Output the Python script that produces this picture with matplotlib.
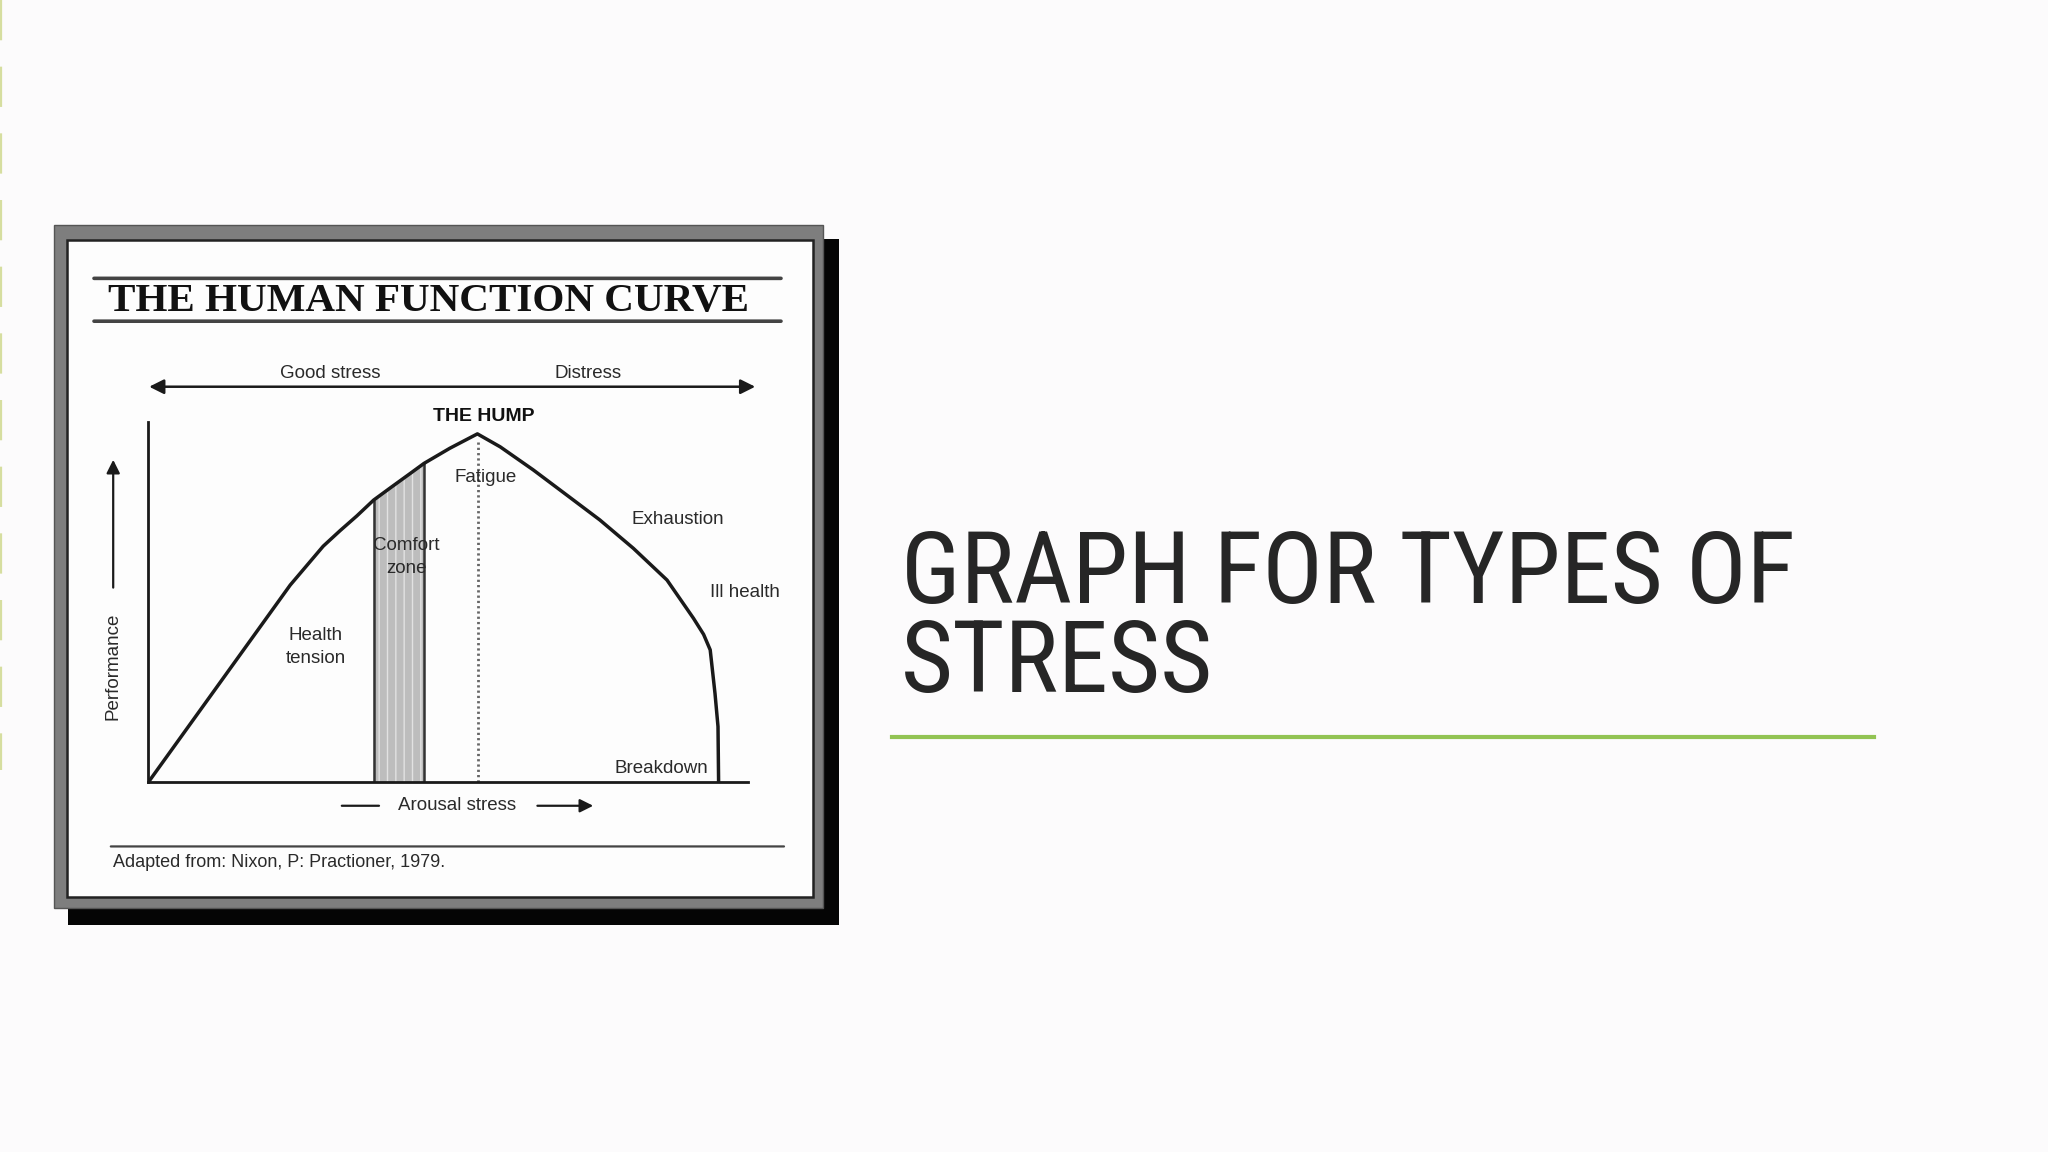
import matplotlib.pyplot as plt
from matplotlib.patches import Rectangle
from matplotlib.lines import Line2D
from matplotlib import font_manager
import numpy as np

# slide text
slide_title = ["GRAPH FOR TYPES OF", "STRESS"]
chart_title = "THE HUMAN FUNCTION CURVE"
source_note = "Adapted from: Nixon, P: Practioner, 1979."

# the human function curve (arousal stress -> performance, 0-100 scale)
arousal = [0.3, 23.7, 29.2, 32.0, 34.8, 37.6, 40.3, 43.7, 46.0, 50.3, 54.9,
           58.7, 64.2, 69.8, 75.3, 80.9, 86.5, 90.9, 92.6, 93.7, 94.5, 95.0, 95.1]
performance = [0.5, 54.7, 65.5, 69.8, 73.9, 78.3, 81.6, 85.7, 88.5, 92.7, 96.7,
               93.1, 86.7, 79.7, 72.8, 64.9, 56.1, 45.5, 41.0, 36.7, 24.6, 15.4, 0.0]
comfort_zone = (37.6, 46.0)
hump_x = 55.0

# region labels: (text, x, y)
labels = [
    ("Fatigue", 56.2, 84.5),
    ("Comfort\nzone", 43.1, 62.6),
    ("Exhaustion", 88.3, 72.8),
    ("Ill health", 99.5, 52.7),
    ("Health\ntension", 28.0, 37.6),
    ("Breakdown", 85.5, 3.8),
]
zone_labels = [("Good stress", 30.4, 113.5), ("Distress", 73.4, 113.5)]

W, H = 2048, 1152
def fx(px):
    return px / W
def fy(py):
    return 1 - py / H

installed = {f.name for f in font_manager.fontManager.ttflist}
narrow = 'Liberation Sans'
for cand in ['Liberation Sans Narrow', 'Roboto Condensed', 'Open Sans Condensed', 'Arial Narrow']:
    if cand in installed:
        narrow = cand
        break

plt.rcParams['lines.scale_dashes'] = False
fig = plt.figure(figsize=(20.48, 11.52), dpi=100)
fig.patch.set_facecolor('#fcfbfc')

# faint dashed accent on the left edge
fig.add_artist(Line2D([fx(1), fx(1)], [fy(0), fy(770)], transform=fig.transFigure,
                      color='#d6dea0', lw=1.6, dashes=(29, 19)))

# picture frame: shadow, grey border, white panel
frame = [
    ((68, 239, 839, 925), '#050505', 'none', 0),
    ((54, 225, 823, 908), '#7e7e7e', '#555555', 1),
    ((67, 240, 813, 897), '#fdfdfd', '#222222', 1.8),
]
for (x0, y0, x1, y1), fc, ec, lw in frame:
    fig.patches.append(Rectangle((fx(x0), fy(y1)), fx(x1) - fx(x0), fy(y0) - fy(y1),
                                 transform=fig.transFigure, facecolor=fc, edgecolor=ec,
                                 lw=lw, zorder=-5))

ax = fig.add_axes([fx(148), fy(782), fx(748) - fx(148), fy(422) - fy(782)])
ax.set_zorder(2)
ax.set_xlim(0, 100)
ax.set_ylim(0, 100)
ax.patch.set_alpha(0)
for s in ['top', 'right']:
    ax.spines[s].set_visible(False)
for s in ['left', 'bottom']:
    ax.spines[s].set_color('#1a1a1a')
    ax.spines[s].set_linewidth(2.0)
ax.set_xticks([])
ax.set_yticks([])

ink = '#1a1a1a'
txt = '#2a2a2a'
sans = ['Liberation Sans', 'DejaVu Sans']

# comfort zone shading
x = np.array(arousal)
y = np.array(performance)
mask = (x >= comfort_zone[0]) & (x <= comfort_zone[1])
plt.rcParams['hatch.color'] = '#e2e2e2'
ax.fill_between(x[mask], 0, y[mask], facecolor='#bdbdbd', edgecolor='#e2e2e2',
                lw=0, hatch='||', zorder=1)
for b in comfort_zone:
    ax.vlines(b, 0, np.interp(b, x, y), color='#333333', lw=1.8, zorder=2)

# hump divider
ax.vlines(hump_x, 0, 95, color='#666666', lw=2.0, linestyles=(0, (1.6, 2.2)), zorder=2)

# curve
ax.plot(arousal, performance, color=ink, lw=2.5, zorder=3,
        solid_capstyle='round', solid_joinstyle='round')

# region labels
for t, lx, ly in labels:
    ax.text(lx, ly, t, ha='center', va='center', fontsize=13.5, color=txt,
            family=sans, linespacing=1.45, clip_on=False, zorder=4)
ax.text(56.0, 101.5, "THE HUMP", ha='center', va='center', fontsize=14,
        fontweight='bold', color='#111111', family=sans, clip_on=False)

# good stress / distress double arrow
ax.annotate('', xy=(101.2, 109.8), xytext=(0.2, 109.8), xycoords='data',
            arrowprops=dict(arrowstyle='<|-|>', color=ink, lw=1.8,
                            mutation_scale=22, shrinkA=0, shrinkB=0),
            annotation_clip=False)
for t, lx, ly in zone_labels:
    ax.text(lx, ly, t, ha='center', va='center', fontsize=13.5, color=txt,
            family=sans, clip_on=False)

# performance arrow and label
ax.annotate('', xy=(-5.8, 89.5), xytext=(-5.8, 54.0),
            arrowprops=dict(arrowstyle='-|>', color=ink, lw=1.6,
                            mutation_scale=20, shrinkA=0, shrinkB=0),
            annotation_clip=False)
ax.text(-5.8, 32.2, "Performance", rotation=90, ha='center', va='center',
        fontsize=13.5, color=txt, family=sans, clip_on=False)

# arousal stress label with arrow
ax.annotate('', xy=(38.5, -6.6), xytext=(32.3, -6.6),
            arrowprops=dict(arrowstyle='-', color=ink, lw=1.6, shrinkA=0, shrinkB=0),
            annotation_clip=False)
ax.annotate('', xy=(74.2, -6.6), xytext=(64.9, -6.6),
            arrowprops=dict(arrowstyle='-|>', color=ink, lw=1.6,
                            mutation_scale=20, shrinkA=0, shrinkB=0),
            annotation_clip=False)
ax.text(51.5, -6.6, "Arousal stress", ha='center', va='center', fontsize=13.5,
        color=txt, family=sans, clip_on=False)

# chart title between rules
for ry in (139.9, 128.0):
    ax.annotate('', xy=(105.5, ry), xytext=(-9.0, ry),
                arrowprops=dict(arrowstyle='-', color='#444444', lw=2.6, shrinkA=0, shrinkB=0),
                annotation_clip=False)
ttl = ax.text(46.7, 133.6, chart_title, ha='center', va='center', fontsize=24,
              fontweight='bold', color='#111111', family=['Liberation Serif', 'DejaVu Serif'],
              clip_on=False)

# source rule and note
ax.annotate('', xy=(106.0, -17.9), xytext=(-6.2, -17.9),
            arrowprops=dict(arrowstyle='-', color='#444444', lw=1.6, shrinkA=0, shrinkB=0),
            annotation_clip=False)
ax.text(-5.9, -22.3, source_note, ha='left', va='center', fontsize=13,
        color=txt, family=sans, clip_on=False)

# slide title and green rule
t1 = fig.text(fx(901), fy(603), slide_title[0], ha='left', va='baseline', fontsize=68,
              color='#262626', family=[narrow, 'DejaVu Sans'])
t2 = fig.text(fx(901), fy(692), slide_title[1], ha='left', va='baseline', fontsize=68,
              color='#262626', family=[narrow, 'DejaVu Sans'])
fig.add_artist(Line2D([fx(892), fx(1874)], [fy(737), fy(737)], transform=fig.transFigure,
                      color='#92c353', lw=3))

# fit text widths to the reference
renderer = fig.canvas.get_renderer()
w = t1.get_window_extent(renderer).width
size = 68 * 895 / w
t1.set_fontsize(size)
t2.set_fontsize(size)
w = ttl.get_window_extent(renderer).width
ttl.set_fontsize(24 * 644 / w)

fig.savefig('out.png', dpi=100, facecolor=fig.get_facecolor())
